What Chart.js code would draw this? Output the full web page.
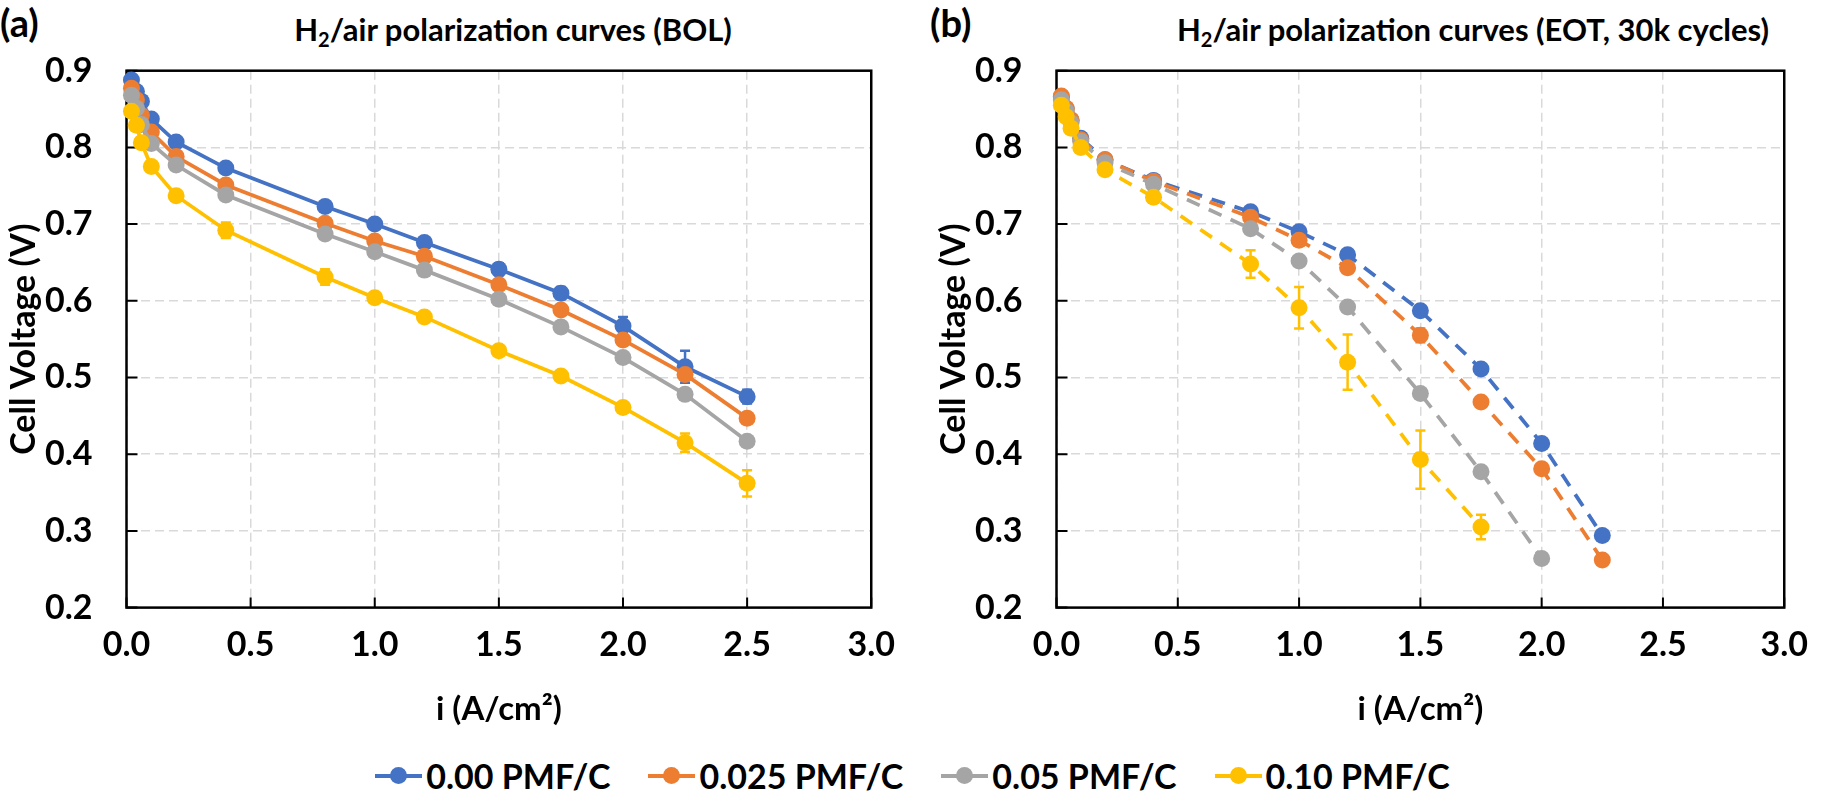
<!DOCTYPE html>
<html>
<head>
<meta charset="utf-8">
<script src="https://cdn.jsdelivr.net/npm/chart.js@4"></script>
<style>
  body { margin: 0; background: #fff; font-family: Lato, sans-serif; font-weight: 700; }
  #page { position: relative; width: 1825px; height: 799px; overflow: hidden; }
  .box { position: absolute; top: 0; height: 740px; }
  .panel { position: absolute; top: 0px; font-size: 38px; line-height: 44px; }
  .title { position: absolute; top: 11px; font-size: 31px; line-height: 36px; transform: translateX(-50%); white-space: nowrap; }
  .title sub { font-size: 20px; vertical-align: -6px; line-height: 0; }
  #legend { position: absolute; left: 0; width: 1825px; top: 756px; display: flex; justify-content: center; gap: 38px; font-size: 34px; line-height: 40px; }
  .item { display: flex; align-items: center; }
  .swatch { position: relative; width: 47px; height: 20px; margin-right: 4px; }
  .swatch .ln { position: absolute; left: 0; right: 0; top: 8px; height: 4px; }
  .swatch .dot { position: absolute; left: 15px; top: 1px; width: 17px; height: 17px; border-radius: 50%; }
</style>
</head>
<body>
<div id="page">
  <div class="panel" style="left:0px">(a)</div>
  <div class="panel" style="left:930px">(b)</div>
  <div class="title" style="left:513px">H<sub>2</sub>/air polarization curves (BOL)</div>
  <div class="title" style="left:1473px">H<sub>2</sub>/air polarization curves (EOT, 30k cycles)</div>
  <div class="box" style="left:0px;width:912px"><canvas id="bol"></canvas></div>
  <div class="box" style="left:930px;width:895px"><canvas id="eot"></canvas></div>
  <div id="legend"></div>
</div>
<script>
// series names and colours
const seriesNames = ['0.00 PMF/C', '0.025 PMF/C', '0.05 PMF/C', '0.10 PMF/C'];
const seriesColors = ['#4472C4', '#ED7D31', '#A5A5A5', '#FFC000'];

// beginning of life, current density (A/cm2)
const currentBOL = [0.02, 0.04, 0.06, 0.1, 0.2, 0.4, 0.8, 1.0, 1.2, 1.5, 1.75, 2.0, 2.25, 2.5];
const bol000 = [0.888, 0.873, 0.860, 0.837, 0.807, 0.773, 0.723, 0.700, 0.676, 0.641, 0.610, 0.567, 0.514, 0.475];
const bol025 = [0.877, 0.862, 0.842, 0.820, 0.788, 0.751, 0.701, 0.678, 0.658, 0.621, 0.588, 0.549, 0.504, 0.447];
const bol050 = [0.868, 0.851, 0.830, 0.805, 0.777, 0.738, 0.687, 0.664, 0.640, 0.602, 0.566, 0.526, 0.478, 0.417];
const bol100 = [0.847, 0.829, 0.806, 0.775, 0.737, 0.692, 0.631, 0.604, 0.579, 0.535, 0.502, 0.461, 0.415, 0.362];
const errBol000 = [0.002, 0.002, 0.002, 0.003, 0.003, 0.004, 0.005, 0.005, 0.006, 0.008, 0.008, 0.012, 0.021, 0.009];
const errBol025 = [0.002, 0.002, 0.002, 0.003, 0.003, 0.004, 0.005, 0.005, 0.005, 0.006, 0.006, 0.007, 0.008, 0.007];
const errBol050 = [0.002, 0.002, 0.002, 0.003, 0.003, 0.003, 0.004, 0.004, 0.005, 0.005, 0.005, 0.006, 0.007, 0.006];
const errBol100 = [0.002, 0.002, 0.003, 0.004, 0.006, 0.010, 0.010, 0.006, 0.005, 0.005, 0.005, 0.006, 0.012, 0.017];

// end of test (30k cycles)
const currentEOT = [0.02, 0.04, 0.06, 0.1, 0.2, 0.4, 0.8, 1.0, 1.2, 1.5, 1.75, 2.0, 2.25];
const eot000 = [0.866, 0.850, 0.835, 0.812, 0.784, 0.757, 0.716, 0.690, 0.660, 0.587, 0.511, 0.414, 0.294];
const eot025 = [0.867, 0.851, 0.836, 0.810, 0.784, 0.756, 0.709, 0.679, 0.643, 0.555, 0.468, 0.381, 0.262];
const eot050 = [0.862, 0.847, 0.832, 0.808, 0.780, 0.752, 0.694, 0.652, 0.592, 0.479, 0.377, 0.264, null];
const eot100 = [0.855, 0.840, 0.825, 0.800, 0.771, 0.735, 0.648, 0.591, 0.520, 0.393, 0.305, null, null];
const errEot000 = [0.002, 0.002, 0.002, 0.003, 0.003, 0.004, 0.005, 0.006, 0.006, 0.006, 0.006, 0.006, 0.006];
const errEot025 = [0.002, 0.002, 0.002, 0.003, 0.003, 0.004, 0.006, 0.006, 0.007, 0.009, 0.006, 0.006, 0.006];
const errEot050 = [0.002, 0.002, 0.002, 0.003, 0.003, 0.004, 0.006, 0.006, 0.006, 0.006, 0.006, 0.006, null];
const errEot100 = [0.002, 0.002, 0.002, 0.003, 0.004, 0.006, 0.018, 0.027, 0.036, 0.038, 0.016, null, null];

const FONT = 'Lato';

function points(xs, ys, errs) {
    let out = [];
    xs.forEach((x, i) => {
        if (ys[i] == null) return;
        out.push({ x: x, y: ys[i], err: errs[i] });
    });
    return out;
}

function makeSet(k, xs, ys, errs, dashed) {
    return {
        label: seriesNames[k],
        data: points(xs, ys, errs),
        showLine: true,
        borderColor: seriesColors[k],
        backgroundColor: seriesColors[k],
        borderWidth: 3.75,
        borderDash: dashed ? [14, 10] : [],
        pointRadius: 8.5,
        pointBorderWidth: 0,
        pointBackgroundColor: seriesColors[k],
        clip: false,
        order: 3 - k
    };
}

// black box round the plot area with inside tick marks
const frame = {
    id: 'frame',
    beforeDatasetsDraw(chart) {
        const { ctx, chartArea: a, scales: { x, y } } = chart;
        ctx.save();
        ctx.setLineDash([]);
        ctx.strokeStyle = '#000';
        ctx.lineWidth = 2.5;
        ctx.strokeRect(a.left, a.top, a.right - a.left, a.bottom - a.top);
        ctx.beginPath();
        x.ticks.forEach(t => {
            const px = x.getPixelForValue(t.value);
            ctx.moveTo(px, a.bottom);
            ctx.lineTo(px, a.bottom - 10);
        });
        y.ticks.forEach(t => {
            const py = y.getPixelForValue(t.value);
            ctx.moveTo(a.left, py);
            ctx.lineTo(a.left + 11, py);
        });
        ctx.lineWidth = 2;
        ctx.stroke();
        ctx.restore();
    }
};

const errorBars = {
    id: 'errorBars',
    beforeDatasetsDraw(chart) {
        const { ctx, scales: { x, y } } = chart;
        chart.data.datasets.forEach(ds => {
            ctx.save();
            ctx.setLineDash([]);
            ctx.strokeStyle = ds.borderColor;
            ctx.lineWidth = 2.5;
            ctx.beginPath();
            ds.data.forEach(p => {
                if (!p.err) return;
                const px = x.getPixelForValue(p.x);
                const top = y.getPixelForValue(p.y + p.err);
                const bot = y.getPixelForValue(p.y - p.err);
                ctx.moveTo(px, top); ctx.lineTo(px, bot);
                ctx.moveTo(px - 5, top); ctx.lineTo(px + 5, top);
                ctx.moveTo(px - 5, bot); ctx.lineTo(px + 5, bot);
            });
            ctx.stroke();
            ctx.restore();
        });
    }
};

function options(padRight) {
    return {
        responsive: true,
        maintainAspectRatio: false,
        animation: false,
        events: [],
        layout: { padding: { top: 70.7, right: padRight, left: 0, bottom: 0 } },
        plugins: { legend: { display: false }, tooltip: { enabled: false } },
        scales: {
            x: {
                type: 'linear', min: 0, max: 3,
                afterFit: s => { s.height = 132.4; },
                ticks: { stepSize: 0.5, padding: 17, color: '#000', font: { family: FONT, size: 34, weight: 'bold' },
                         callback: v => v.toFixed(1) },
                grid: { color: '#d9d9d9', lineWidth: 1.5, drawTicks: false },
                border: { display: false, dash: [9, 5] },
                title: { display: true, text: 'i (A/cm²)', color: '#000', padding: { bottom: 11 },
                         font: { family: FONT, size: 33, weight: 'bold' } }
            },
            y: {
                type: 'linear', min: 0.2, max: 0.9,
                afterFit: s => { s.width = 126.5; },
                ticks: { stepSize: 0.1, padding: 34, color: '#000', font: { family: FONT, size: 34, weight: 'bold' },
                         callback: v => v.toFixed(1) },
                grid: { color: '#d9d9d9', lineWidth: 1.5, drawTicks: false },
                border: { display: false, dash: [9, 5] },
                title: { display: true, text: 'Cell Voltage (V)', color: '#000', padding: { top: 4 },
                         font: { family: FONT, size: 34, weight: 'bold' } }
            }
        }
    };
}

new Chart(document.getElementById('bol'), {
    type: 'scatter',
    data: {
        datasets: [
            makeSet(0, currentBOL, bol000, errBol000, false),
            makeSet(1, currentBOL, bol025, errBol025, false),
            makeSet(2, currentBOL, bol050, errBol050, false),
            makeSet(3, currentBOL, bol100, errBol100, false)
        ]
    },
    options: options(39),
    plugins: [frame, errorBars]
});

new Chart(document.getElementById('eot'), {
    type: 'scatter',
    data: {
        datasets: [
            makeSet(0, currentEOT, eot000, errEot000, true),
            makeSet(1, currentEOT, eot025, errEot025, true),
            makeSet(2, currentEOT, eot050, errEot050, true),
            makeSet(3, currentEOT, eot100, errEot100, true)
        ]
    },
    options: options(22),
    plugins: [frame, errorBars]
});

// shared legend under both panels
let legend = document.getElementById('legend');
seriesNames.forEach((name, k) => {
    let item = document.createElement('div');
    item.className = 'item';
    item.innerHTML = '<span class="swatch"><span class="ln" style="background:' + seriesColors[k] + '"></span>' +
        '<span class="dot" style="background:' + seriesColors[k] + '"></span></span><span>' + name + '</span>';
    legend.appendChild(item);
});
</script>
</body>
</html>
